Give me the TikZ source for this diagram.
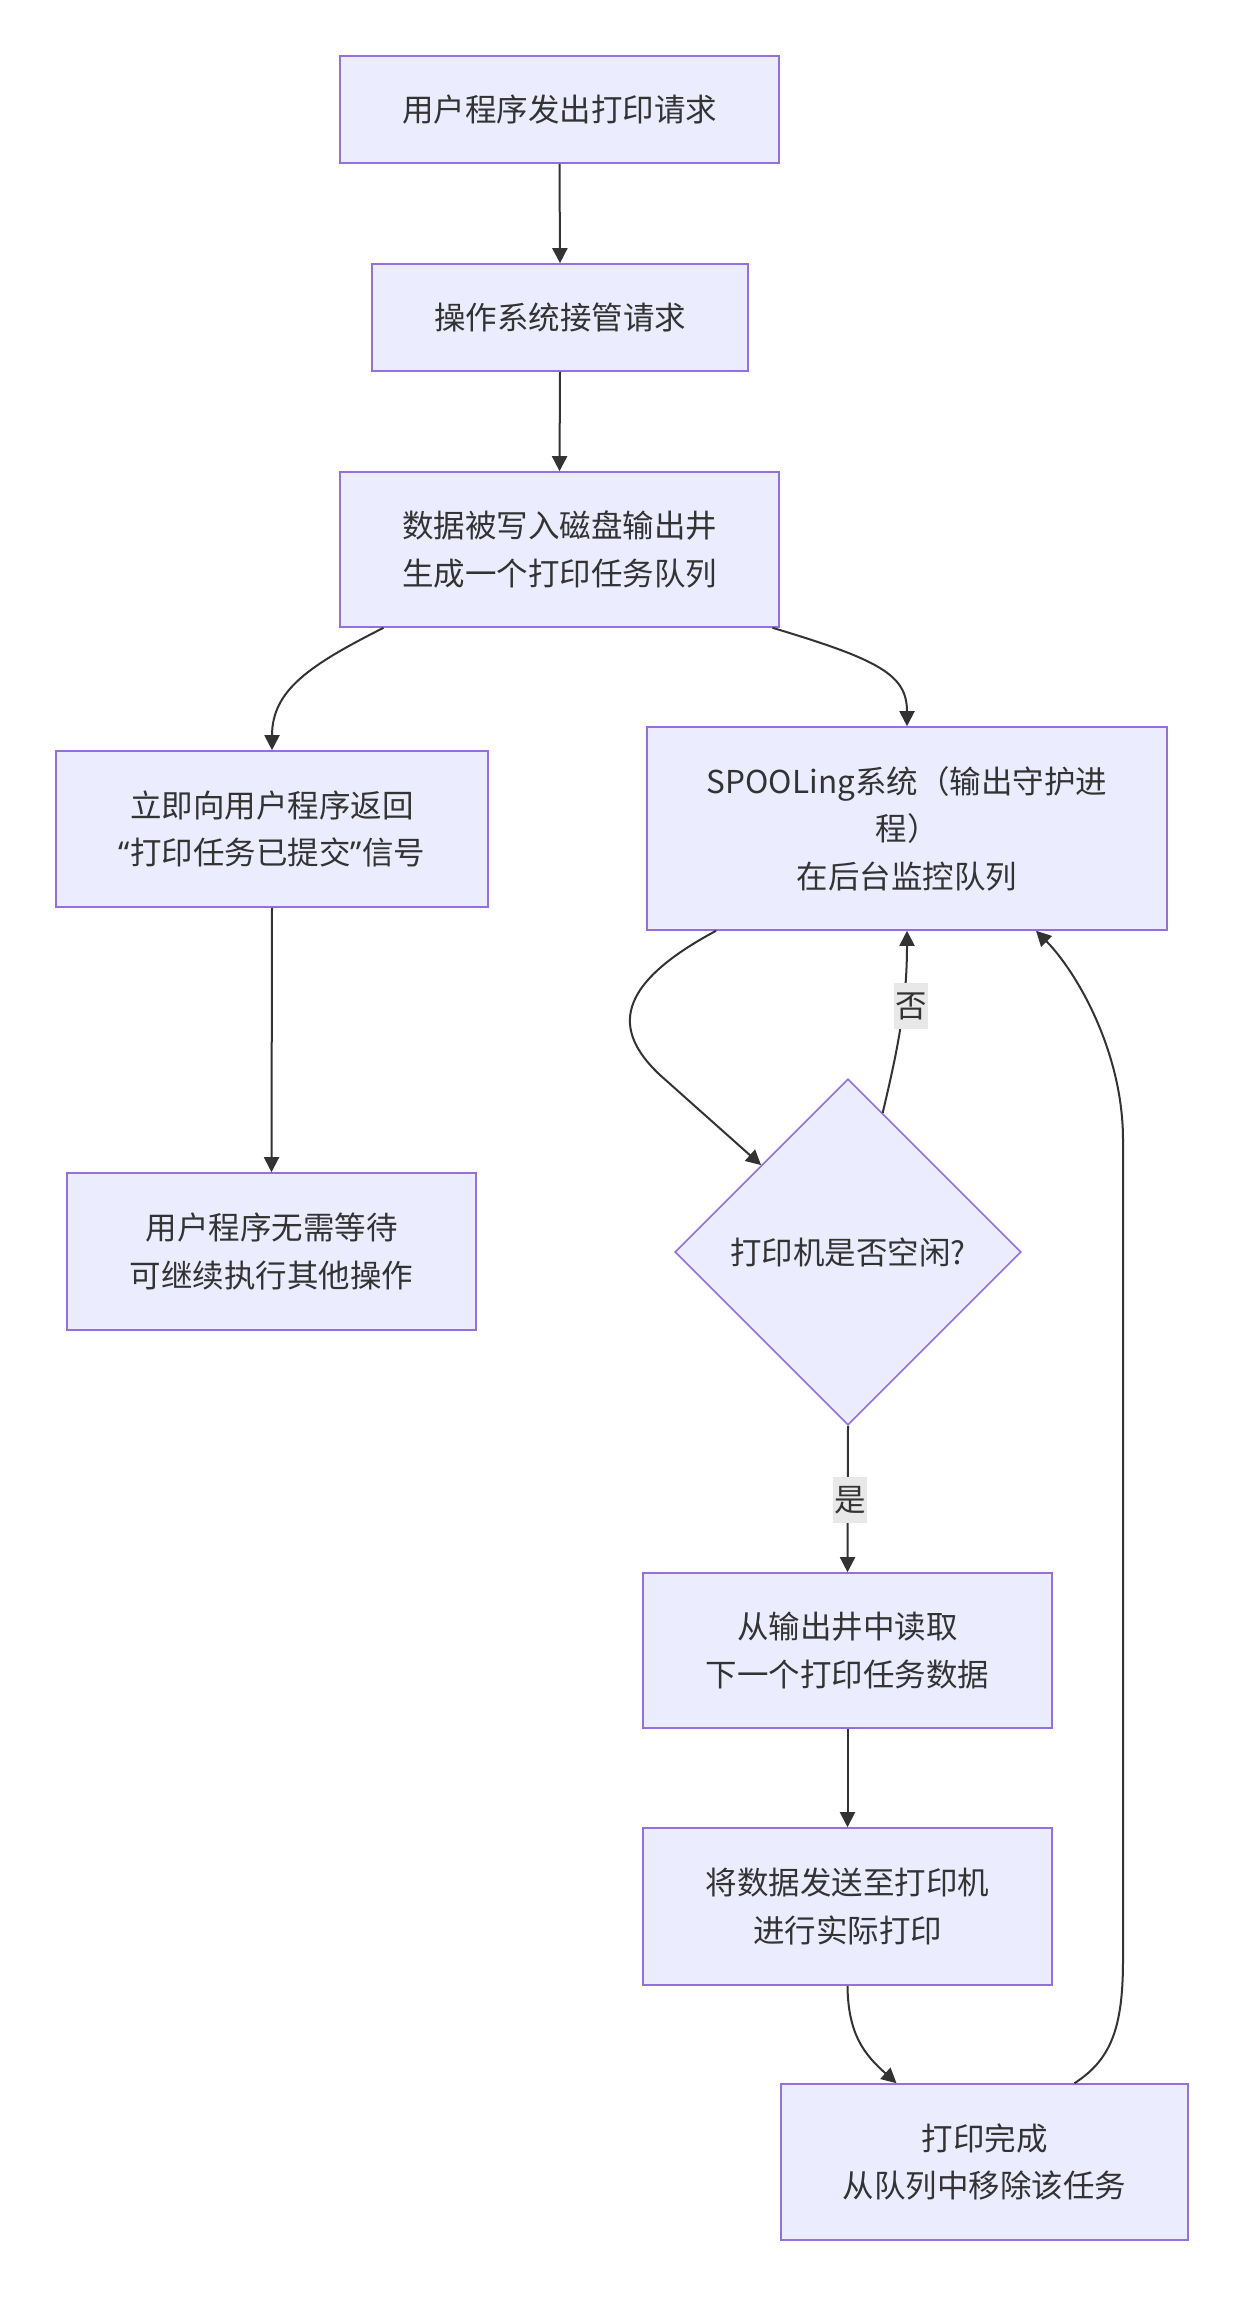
\documentclass[tikz,border=0pt]{standalone}
\usepackage{fontspec}
\setmainfont{Noto Sans CJK SC}
\newfontfamily\latinq{Noto Sans}
\usetikzlibrary{shapes.geometric,arrows.meta,calc}
\definecolor{boxfill}{HTML}{ECECFF}
\definecolor{boxdraw}{HTML}{9370DB}
\definecolor{edgecol}{HTML}{333333}
\definecolor{lblfill}{HTML}{E8E8E8}
\begin{document}
\begin{tikzpicture}[x=1pt,y=-1pt,
  font=\fontsize{31.5pt}{47.5pt}\selectfont, text=edgecol,
  box/.style={draw=boxdraw, fill=boxfill, line width=1.6pt, align=center, inner sep=0pt},
  decision/.style={diamond, aspect=1, draw=boxdraw, fill=boxfill, line width=1.6pt,
    minimum width=346pt, minimum height=346pt, inner sep=0pt, align=center},
  edge/.style={draw=edgecol, line width=2pt, -{Triangle[length=15pt,width=15pt]}},
  lbl/.style={fill=lblfill, inner xsep=1pt, inner ysep=0pt, minimum height=46pt}]
\useasboundingbox (0,0) rectangle (1245,2298);
\fill[white] (0,0) rectangle (1245,2298);

\node[box, minimum width=439pt, minimum height=107pt] (n1) at (559.5,109.5) {用户程序发出打印请求};
\node[box, minimum width=376pt, minimum height=107pt] (n2) at (560,317.5) {操作系统接管请求};
\node[box, minimum width=439pt, minimum height=155pt] (n3) at (559.5,549.5) {数据被写入磁盘输出井\\生成一个打印任务队列};
\node[box, minimum width=432pt, minimum height=156pt] (n4) at (272,829) {立即向用户程序返回\\{\latinq “}打印任务已提交{\latinq ”}信号};
\node[box, minimum width=520pt, minimum height=203pt] (n5) at (907,828.5) {SPOOLing系统（输出守护进\\程）\\在后台监控队列};
\node[box, minimum width=409pt, minimum height=157pt] (n6) at (271.5,1251.5) {用户程序无需等待\\可继续执行其他操作};
\node[decision] (dia) at (848,1252) {打印机是否空闲?};
\node[box, minimum width=409pt, minimum height=155pt] (n8) at (847.5,1650.5) {从输出井中读取\\下一个打印任务数据};
\node[box, minimum width=409pt, minimum height=157pt] (n9) at (847.5,1906.5) {将数据发送至打印机\\进行实际打印};
\node[box, minimum width=407pt, minimum height=156pt] (n10) at (984.5,2162) {打印完成\\从队列中移除该任务};

\draw[edge] (n1.south) -- (n2.north);
\draw[edge] (n2.south) -- (n3.north);
\draw[edge] ([xshift=-176pt]n3.south) .. controls (310,665) and (272,690) .. (n4.north);
\draw[edge] ([xshift=213pt]n3.south) .. controls (880,660) and (907,675) .. (n5.north);
\draw[edge] (n4.south) -- (n6.north);
\draw[edge] ([xshift=-191pt]n5.south) .. controls (615,985) and (612,1030) .. (660,1075) -- (dia.north west);
\draw[edge] (dia.76) .. controls (895,1060) and (907,1010) .. (n5.south);
\draw[edge] (dia.south) -- (n8.north);
\draw[edge] (n8.south) -- (n9.north);
\draw[edge] (n9.south) .. controls (848,2035) and (865,2055) .. ([xshift=-88pt]n10.north);
\draw[edge] ([xshift=90pt]n10.north) .. controls (1110,2060) and (1123,2030) .. (1123,1960)
  -- (1123,1140) .. controls (1123,1050) and (1075,970) .. ([xshift=129pt]n5.south);

\node[lbl] (l1) at (911,1006) {否};
\node[lbl] (l2) at (850,1500) {是};
\end{tikzpicture}
\end{document}
